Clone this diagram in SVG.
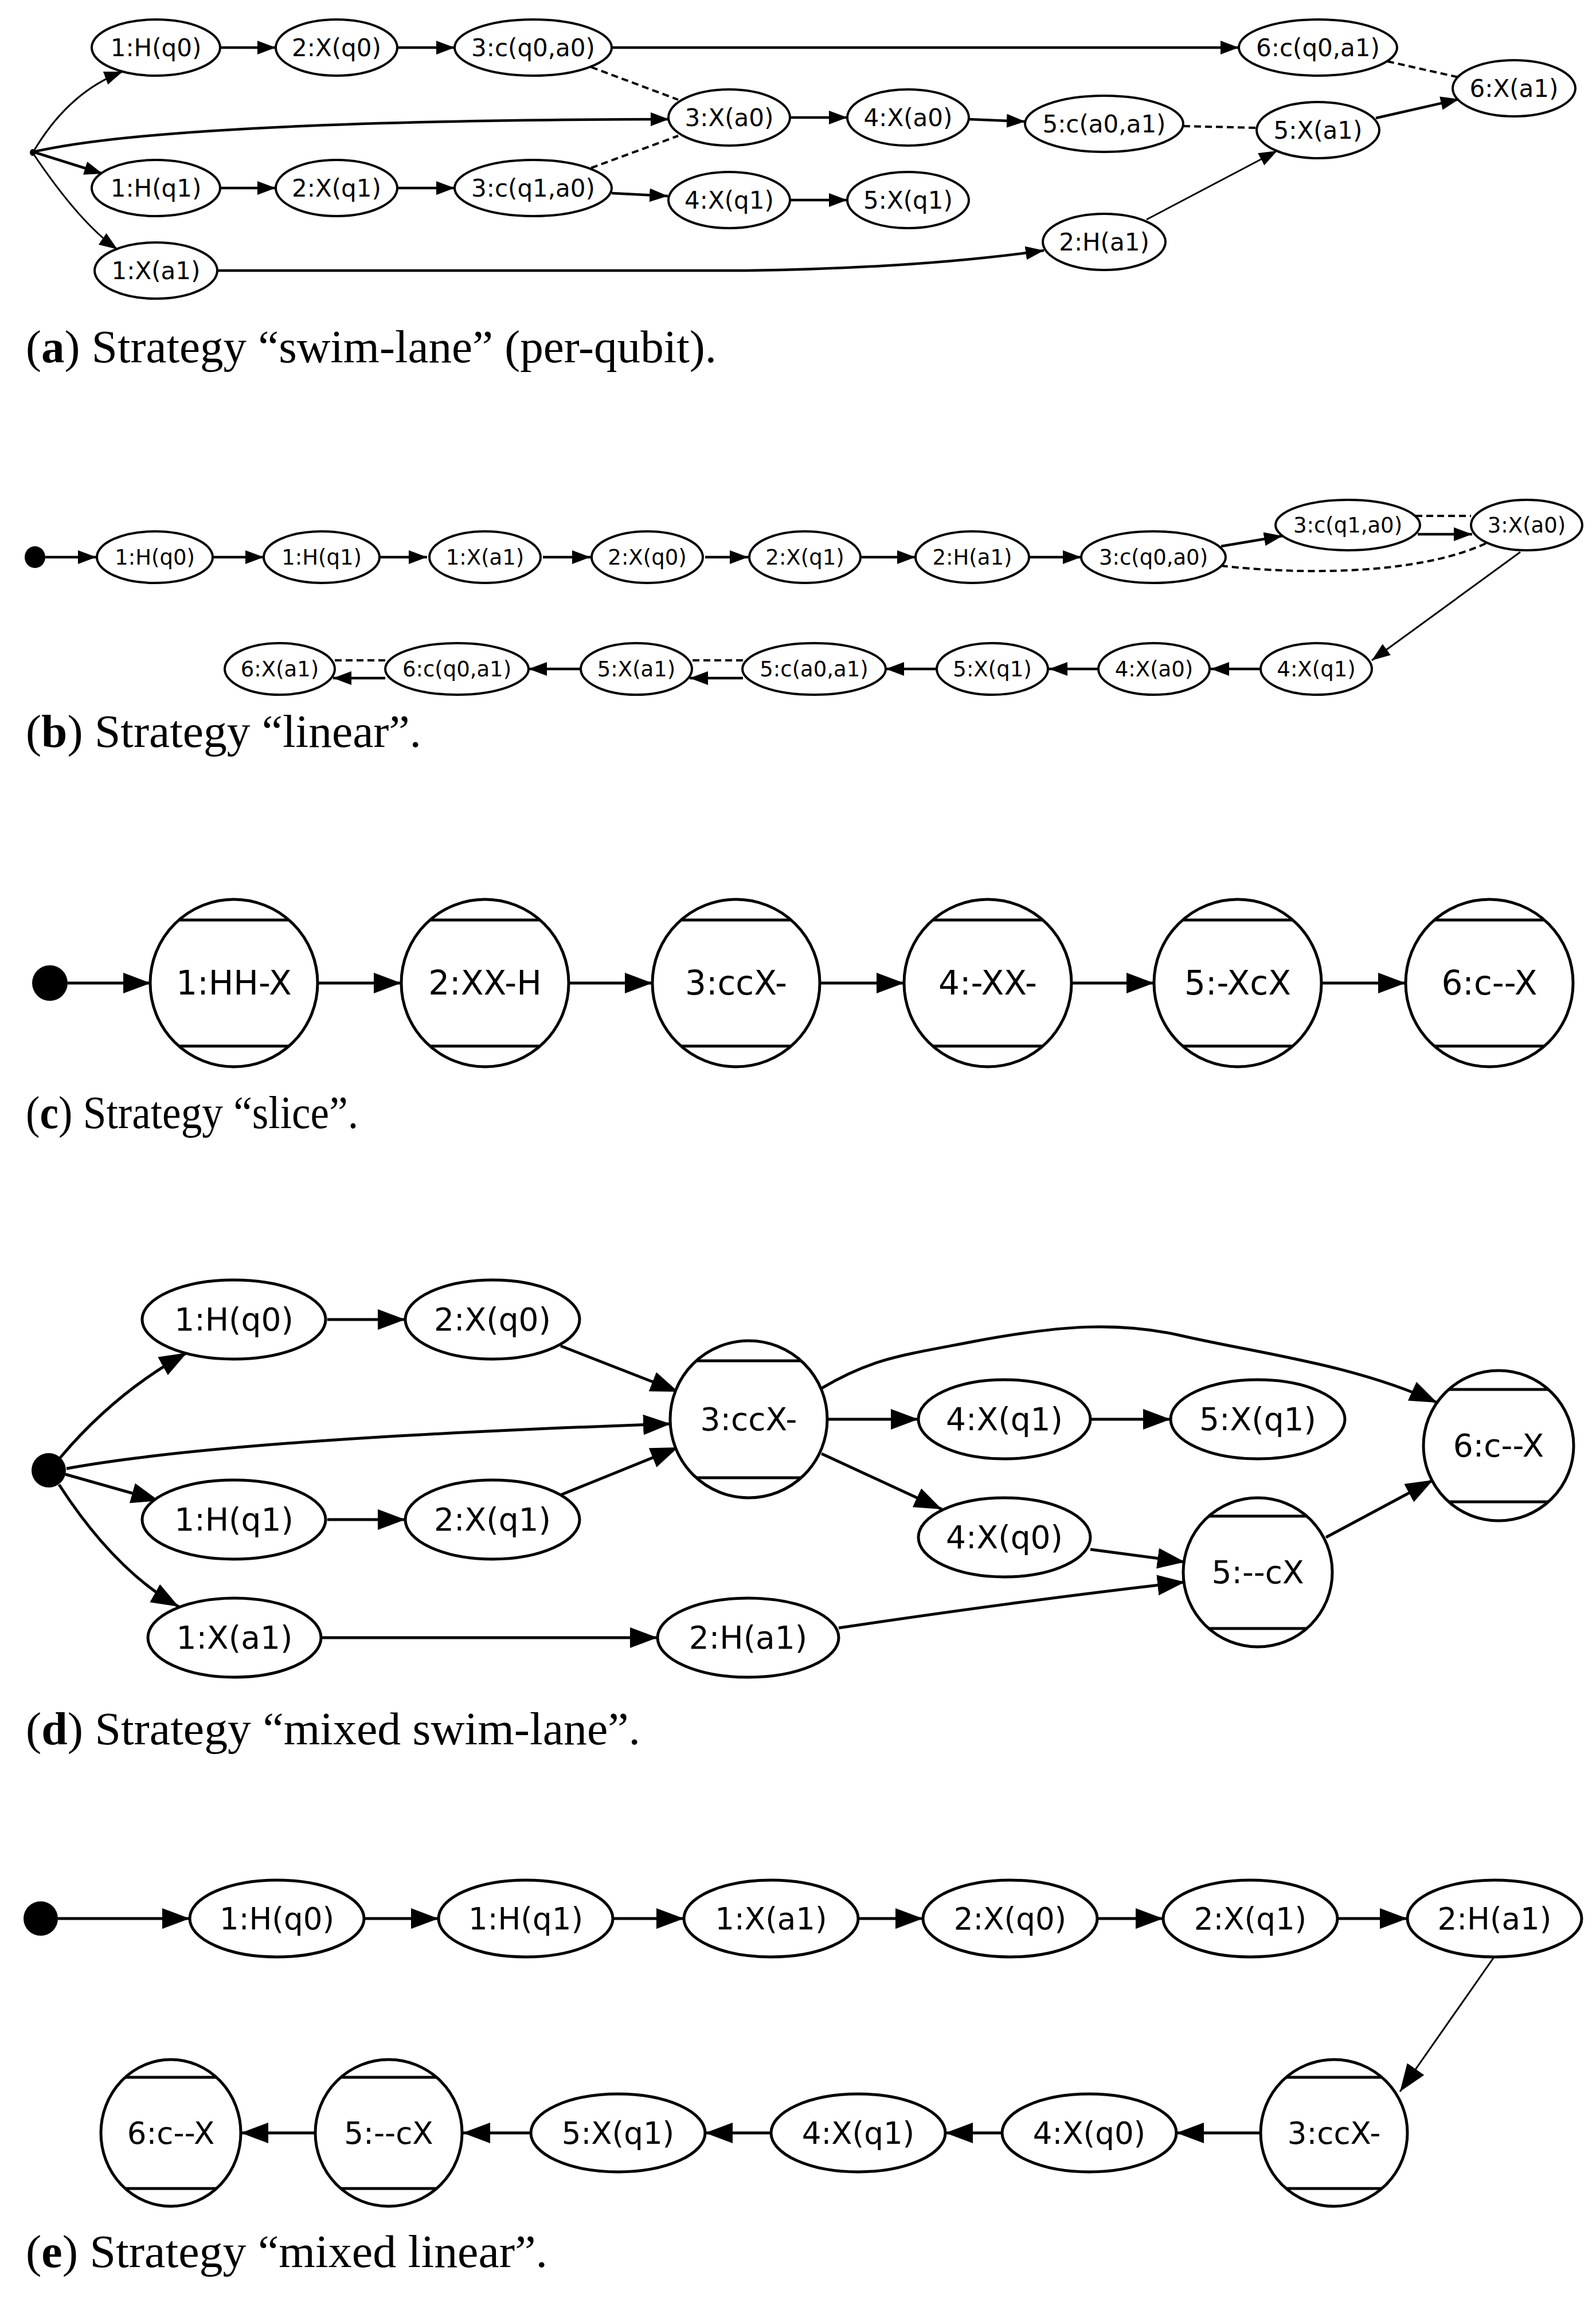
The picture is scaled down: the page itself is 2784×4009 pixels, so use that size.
<svg xmlns="http://www.w3.org/2000/svg" width="2784" height="4009" viewBox="0 0 2784 4009">
<style>
.n{fill:#fff;stroke:#000;stroke-width:4}
.N{fill:#fff;stroke:#000;stroke-width:5}
.t{font-family:"DejaVu Sans",sans-serif;text-anchor:middle;dominant-baseline:central;fill:#000}
.ta{font-size:42px}.tb{font-size:37px}.tc{font-size:58px}.td{font-size:55px}.te{font-size:53px}
.e{fill:none;stroke:#000;stroke-width:4.5}
.eh{fill:none;stroke:#000;stroke-width:3}
.E{fill:none;stroke:#000;stroke-width:5}
.d{fill:none;stroke:#000;stroke-width:4;stroke-dasharray:12,7}
.cap{font-family:"Liberation Serif",serif;font-size:80px;fill:#000}
.sl{stroke:#000;stroke-width:5}
</style>
<defs>
<marker id="ms" markerUnits="userSpaceOnUse" markerWidth="34" markerHeight="26" refX="32" refY="12" orient="auto"><path d="M0,0 L32,12 L0,24 Z"/></marker>
<marker id="mb" markerUnits="userSpaceOnUse" markerWidth="52" markerHeight="38" refX="48" refY="18" orient="auto"><path d="M0,0 L48,18 L0,36 Z"/></marker>
</defs>

<!-- ===== Panel a ===== -->
<g id="a-connectors">
<path class="eh" d="M58,265 Q120,160 214,125" marker-end="url(#ms)"/>
<path class="e" d="M58,265 Q300,210 1167,208" marker-end="url(#ms)"/>
<path class="e" d="M58,265 L179,303" marker-end="url(#ms)"/>
<path class="eh" d="M58,268 Q140,390 205,435" marker-end="url(#ms)"/>
<path class="e" d="M384,83 L481,83" marker-end="url(#ms)"/>
<path class="e" d="M693,83 L793,83" marker-end="url(#ms)"/>
<path class="e" d="M1067,83 L2161,83" marker-end="url(#ms)"/>
<path class="d" d="M1031,117 L1183,174"/>
<path class="d" d="M1031,293 L1183,237"/>
<path class="e" d="M1378,205 L1478,205" marker-end="url(#ms)"/>
<path class="e" d="M1690,208 L1788,212" marker-end="url(#ms)"/>
<path class="d" d="M2064,220 L2192,223"/>
<path class="e" d="M2400,206 L2545,173" marker-end="url(#ms)"/>
<path class="d" d="M2420,107 L2545,135"/>
<path class="e" d="M384,328 L481,328" marker-end="url(#ms)"/>
<path class="e" d="M693,328 L793,328" marker-end="url(#ms)"/>
<path class="e" d="M1067,337 L1165,342" marker-end="url(#ms)"/>
<path class="e" d="M1378,349 L1478,349" marker-end="url(#ms)"/>
<path class="e" d="M379,472 L1300,472 Q1600,468 1821,437" marker-end="url(#ms)"/>
<path class="eh" d="M2000,383 L2228,263" marker-end="url(#ms)"/>
</g>
<g id="a-start"><ellipse cx="57" cy="266" rx="5" ry="6"/></g>
<g id="a1"><ellipse class="n" cx="272" cy="83" rx="112" ry="49"/><text class="t ta" x="272" y="83">1:H(q0)</text></g>
<g id="a2"><ellipse class="n" cx="587" cy="83" rx="106" ry="49"/><text class="t ta" x="587" y="83">2:X(q0)</text></g>
<g id="a3"><ellipse class="n" cx="930" cy="83" rx="137" ry="49"/><text class="t ta" x="930" y="83">3:c(q0,a0)</text></g>
<g id="a4"><ellipse class="n" cx="2299" cy="83" rx="138" ry="49"/><text class="t ta" x="2299" y="83">6:c(q0,a1)</text></g>
<g id="a5"><ellipse class="n" cx="2641" cy="154" rx="107" ry="49"/><text class="t ta" x="2641" y="154">6:X(a1)</text></g>
<g id="a6"><ellipse class="n" cx="1272" cy="205" rx="106" ry="49"/><text class="t ta" x="1272" y="205">3:X(a0)</text></g>
<g id="a7"><ellipse class="n" cx="1584" cy="205" rx="106" ry="49"/><text class="t ta" x="1584" y="205">4:X(a0)</text></g>
<g id="a8"><ellipse class="n" cx="1926" cy="216" rx="138" ry="49"/><text class="t ta" x="1926" y="216">5:c(a0,a1)</text></g>
<g id="a9"><ellipse class="n" cx="2299" cy="227" rx="107" ry="49"/><text class="t ta" x="2299" y="227">5:X(a1)</text></g>
<g id="a10"><ellipse class="n" cx="272" cy="328" rx="112" ry="49"/><text class="t ta" x="272" y="328">1:H(q1)</text></g>
<g id="a11"><ellipse class="n" cx="587" cy="328" rx="106" ry="49"/><text class="t ta" x="587" y="328">2:X(q1)</text></g>
<g id="a12"><ellipse class="n" cx="930" cy="328" rx="137" ry="49"/><text class="t ta" x="930" y="328">3:c(q1,a0)</text></g>
<g id="a13"><ellipse class="n" cx="1272" cy="349" rx="106" ry="49"/><text class="t ta" x="1272" y="349">4:X(q1)</text></g>
<g id="a14"><ellipse class="n" cx="1584" cy="349" rx="106" ry="49"/><text class="t ta" x="1584" y="349">5:X(q1)</text></g>
<g id="a15"><ellipse class="n" cx="272" cy="472" rx="107" ry="49"/><text class="t ta" x="272" y="472">1:X(a1)</text></g>
<g id="a16"><ellipse class="n" cx="1926" cy="422" rx="107" ry="49"/><text class="t ta" x="1926" y="422">2:H(a1)</text></g>
<text class="cap" x="45" y="632" textLength="1205" lengthAdjust="spacingAndGlyphs">(<tspan font-weight="bold">a</tspan>) Strategy “swim-lane” (per-qubit).</text>

<!-- ===== Panel b ===== -->
<g id="b-connectors">
<path class="e" d="M79,972 L168,972" marker-end="url(#ms)"/>
<path class="e" d="M371,972 L460,972" marker-end="url(#ms)"/>
<path class="e" d="M662,972 L745,972" marker-end="url(#ms)"/>
<path class="e" d="M947,972 L1030,972" marker-end="url(#ms)"/>
<path class="e" d="M1230,972 L1305,972" marker-end="url(#ms)"/>
<path class="e" d="M1503,972 L1597,972" marker-end="url(#ms)"/>
<path class="e" d="M1795,972 L1886,972" marker-end="url(#ms)"/>
<path class="e" d="M2130,953 L2237,935" marker-end="url(#ms)"/>
<path class="e" d="M2473,932 L2568,932" marker-end="url(#ms)"/>
<path class="d" d="M2469,900 L2566,900"/>
<path class="d" d="M2130,987 C2260,1002 2470,1005 2594,947"/>
<path class="eh" d="M2652,963 L2393,1152" marker-end="url(#ms)"/>
<path class="e" d="M2199,1167 L2112,1167" marker-end="url(#ms)"/>
<path class="e" d="M1916,1167 L1830,1167" marker-end="url(#ms)"/>
<path class="e" d="M1634,1167 L1545,1167" marker-end="url(#ms)"/>
<path class="d" d="M1296,1152 L1207,1152"/>
<path class="e" d="M1296,1183 L1203,1183" marker-end="url(#ms)"/>
<path class="e" d="M1013,1167 L922,1167" marker-end="url(#ms)"/>
<path class="d" d="M672,1152 L584,1152"/>
<path class="e" d="M672,1183 L581,1183" marker-end="url(#ms)"/>
</g>
<g id="b-start"><ellipse cx="61" cy="972" rx="18" ry="19"/></g>
<g id="b1"><ellipse class="n" cx="270" cy="972" rx="101" ry="45"/><text class="t tb" x="270" y="972">1:H(q0)</text></g>
<g id="b2"><ellipse class="n" cx="561" cy="972" rx="101" ry="45"/><text class="t tb" x="561" y="972">1:H(q1)</text></g>
<g id="b3"><ellipse class="n" cx="846" cy="972" rx="97" ry="45"/><text class="t tb" x="846" y="972">1:X(a1)</text></g>
<g id="b4"><ellipse class="n" cx="1129" cy="972" rx="97" ry="45"/><text class="t tb" x="1129" y="972">2:X(q0)</text></g>
<g id="b5"><ellipse class="n" cx="1404" cy="972" rx="97" ry="45"/><text class="t tb" x="1404" y="972">2:X(q1)</text></g>
<g id="b6"><ellipse class="n" cx="1696" cy="972" rx="99" ry="45"/><text class="t tb" x="1696" y="972">2:H(a1)</text></g>
<g id="b7"><ellipse class="n" cx="2012" cy="972" rx="126" ry="45"/><text class="t tb" x="2012" y="972">3:c(q0,a0)</text></g>
<g id="b8"><ellipse class="n" cx="2351" cy="916" rx="126" ry="44"/><text class="t tb" x="2351" y="916">3:c(q1,a0)</text></g>
<g id="b9"><ellipse class="n" cx="2663" cy="916" rx="97" ry="44"/><text class="t tb" x="2663" y="916">3:X(a0)</text></g>
<g id="b10"><ellipse class="n" cx="2296" cy="1167" rx="97" ry="45"/><text class="t tb" x="2296" y="1167">4:X(q1)</text></g>
<g id="b11"><ellipse class="n" cx="2013" cy="1167" rx="97" ry="45"/><text class="t tb" x="2013" y="1167">4:X(a0)</text></g>
<g id="b12"><ellipse class="n" cx="1731" cy="1167" rx="97" ry="45"/><text class="t tb" x="1731" y="1167">5:X(q1)</text></g>
<g id="b13"><ellipse class="n" cx="1420" cy="1167" rx="125" ry="45"/><text class="t tb" x="1420" y="1167">5:c(a0,a1)</text></g>
<g id="b14"><ellipse class="n" cx="1110" cy="1167" rx="97" ry="45"/><text class="t tb" x="1110" y="1167">5:X(a1)</text></g>
<g id="b15"><ellipse class="n" cx="797" cy="1167" rx="125" ry="45"/><text class="t tb" x="797" y="1167">6:c(q0,a1)</text></g>
<g id="b16"><ellipse class="n" cx="488" cy="1167" rx="96" ry="45"/><text class="t tb" x="488" y="1167">6:X(a1)</text></g>
<text class="cap" x="45" y="1303" textLength="690" lengthAdjust="spacingAndGlyphs">(<tspan font-weight="bold">b</tspan>) Strategy “linear”.</text>

<!-- ===== Panel c ===== -->
<g id="c-connectors">
<path class="E" d="M118,1715 L263,1715" marker-end="url(#mb)"/>
<path class="E" d="M554,1715 L700,1715" marker-end="url(#mb)"/>
<path class="E" d="M992,1715 L1138,1715" marker-end="url(#mb)"/>
<path class="E" d="M1430,1715 L1577,1715" marker-end="url(#mb)"/>
<path class="E" d="M1869,1715 L2013,1715" marker-end="url(#mb)"/>
<path class="E" d="M2305,1715 L2452,1715" marker-end="url(#mb)"/>
</g>
<g id="c-start"><circle cx="87" cy="1715" r="31"/></g>
<g id="c1"><circle class="N" cx="408" cy="1715" r="146"/><path class="sl" d="M312,1605 H504 M312,1825 H504"/><text class="t tc" x="408" y="1715">1:HH-X</text></g>
<g id="c2"><circle class="N" cx="846" cy="1715" r="146"/><path class="sl" d="M750,1605 H942 M750,1825 H942"/><text class="t tc" x="846" y="1715">2:XX-H</text></g>
<g id="c3"><circle class="N" cx="1284" cy="1715" r="146"/><path class="sl" d="M1188,1605 H1380 M1188,1825 H1380"/><text class="t tc" x="1284" y="1715">3:ccX-</text></g>
<g id="c4"><circle class="N" cx="1723" cy="1715" r="146"/><path class="sl" d="M1627,1605 H1819 M1627,1825 H1819"/><text class="t tc" x="1723" y="1715">4:-XX-</text></g>
<g id="c5"><circle class="N" cx="2159" cy="1715" r="146"/><path class="sl" d="M2063,1605 H2255 M2063,1825 H2255"/><text class="t tc" x="2159" y="1715">5:-XcX</text></g>
<g id="c6"><circle class="N" cx="2598" cy="1715" r="146"/><path class="sl" d="M2502,1605 H2694 M2502,1825 H2694"/><text class="t tc" x="2598" y="1715">6:c--X</text></g>
<text class="cap" x="45" y="1968" textLength="580" lengthAdjust="spacingAndGlyphs">(<tspan font-weight="bold">c</tspan>) Strategy “slice”.</text>

<!-- ===== Panel d ===== -->
<g id="d-connectors">
<path class="E" d="M105,2543 Q200,2430 326,2360" marker-end="url(#mb)"/>
<path class="E" d="M116,2562 Q400,2510 1170,2484" marker-end="url(#mb)"/>
<path class="E" d="M114,2572 L277,2618" marker-end="url(#mb)"/>
<path class="E" d="M103,2590 Q200,2740 312,2803" marker-end="url(#mb)"/>
<path class="E" d="M571,2302 L707,2302" marker-end="url(#mb)"/>
<path class="E" d="M978,2348 L1183,2428" marker-end="url(#mb)"/>
<path class="E" d="M571,2651 L707,2651" marker-end="url(#mb)"/>
<path class="E" d="M978,2608 L1183,2525" marker-end="url(#mb)"/>
<path class="E" d="M562,2857 L1147,2857" marker-end="url(#mb)"/>
<path class="E" d="M1463,2840 Q1800,2790 2067,2760" marker-end="url(#mb)"/>
<path class="E" d="M1442,2476 L1602,2476" marker-end="url(#mb)"/>
<path class="E" d="M1903,2476 L2042,2476" marker-end="url(#mb)"/>
<path class="E" d="M1433,2536 L1643,2633" marker-end="url(#mb)"/>
<path class="E" d="M1902,2703 L2067,2725" marker-end="url(#mb)"/>
<path class="E" d="M2313,2682 L2500,2582" marker-end="url(#mb)"/>
<path class="E" d="M1433,2422 C1520,2370 1570,2365 1700,2340 C1850,2312 1950,2305 2060,2330 C2200,2362 2360,2380 2507,2447" marker-end="url(#mb)"/>
</g>
<g id="d-start"><circle cx="85" cy="2565" r="30"/></g>
<g id="d1"><ellipse class="N" cx="408" cy="2302" rx="160" ry="69"/><text class="t td" x="408" y="2302">1:H(q0)</text></g>
<g id="d2"><ellipse class="N" cx="859" cy="2302" rx="152" ry="69"/><text class="t td" x="859" y="2302">2:X(q0)</text></g>
<g id="d3"><ellipse class="N" cx="408" cy="2651" rx="160" ry="69"/><text class="t td" x="408" y="2651">1:H(q1)</text></g>
<g id="d4"><ellipse class="N" cx="859" cy="2651" rx="152" ry="69"/><text class="t td" x="859" y="2651">2:X(q1)</text></g>
<g id="d5"><ellipse class="N" cx="409" cy="2857" rx="151" ry="69"/><text class="t td" x="409" y="2857">1:X(a1)</text></g>
<g id="d6"><ellipse class="N" cx="1305" cy="2857" rx="158" ry="69"/><text class="t td" x="1305" y="2857">2:H(a1)</text></g>
<g id="d7"><circle class="N" cx="1306" cy="2476" r="137"/><path class="sl" d="M1215,2374 H1397 M1215,2578 H1397"/><text class="t td" x="1306" y="2476">3:ccX-</text></g>
<g id="d8"><ellipse class="N" cx="1752" cy="2476" rx="150" ry="69"/><text class="t td" x="1752" y="2476">4:X(q1)</text></g>
<g id="d9"><ellipse class="N" cx="2194" cy="2476" rx="152" ry="69"/><text class="t td" x="2194" y="2476">5:X(q1)</text></g>
<g id="d10"><ellipse class="N" cx="1752" cy="2682" rx="150" ry="69"/><text class="t td" x="1752" y="2682">4:X(q0)</text></g>
<g id="d11"><circle class="N" cx="2194" cy="2743" r="130"/><path class="sl" d="M2107,2645 H2281 M2107,2841 H2281"/><text class="t td" x="2194" y="2743">5:--cX</text></g>
<g id="d12"><circle class="N" cx="2614" cy="2522" r="131"/><path class="sl" d="M2527,2424 H2701 M2527,2620 H2701"/><text class="t td" x="2614" y="2522">6:c--X</text></g>
<text class="cap" x="45" y="3043" textLength="1072" lengthAdjust="spacingAndGlyphs">(<tspan font-weight="bold">d</tspan>) Strategy “mixed swim-lane”.</text>

<!-- ===== Panel e ===== -->
<g id="e-connectors">
<path class="E" d="M101,3347 L331,3347" marker-end="url(#mb)"/>
<path class="E" d="M635,3347 L765,3347" marker-end="url(#mb)"/>
<path class="E" d="M1069,3347 L1193,3347" marker-end="url(#mb)"/>
<path class="E" d="M1497,3347 L1610,3347" marker-end="url(#mb)"/>
<path class="E" d="M1914,3347 L2029,3347" marker-end="url(#mb)"/>
<path class="E" d="M2333,3347 L2455,3347" marker-end="url(#mb)"/>
<path class="eh" d="M2607,3413 L2442,3649" marker-end="url(#mb)"/>
<path class="E" d="M2200,3721 L2052,3721" marker-end="url(#mb)"/>
<path class="E" d="M1748,3721 L1649,3721" marker-end="url(#mb)"/>
<path class="E" d="M1345,3721 L1230,3721" marker-end="url(#mb)"/>
<path class="E" d="M926,3721 L807,3721" marker-end="url(#mb)"/>
<path class="E" d="M549,3721 L420,3721" marker-end="url(#mb)"/>
</g>
<g id="e-start"><circle cx="71" cy="3347" r="30"/></g>
<g id="e1"><ellipse class="N" cx="483" cy="3347" rx="152" ry="67"/><text class="t te" x="483" y="3347">1:H(q0)</text></g>
<g id="e2"><ellipse class="N" cx="917" cy="3347" rx="152" ry="67"/><text class="t te" x="917" y="3347">1:H(q1)</text></g>
<g id="e3"><ellipse class="N" cx="1345" cy="3347" rx="152" ry="67"/><text class="t te" x="1345" y="3347">1:X(a1)</text></g>
<g id="e4"><ellipse class="N" cx="1762" cy="3347" rx="152" ry="67"/><text class="t te" x="1762" y="3347">2:X(q0)</text></g>
<g id="e5"><ellipse class="N" cx="2181" cy="3347" rx="152" ry="67"/><text class="t te" x="2181" y="3347">2:X(q1)</text></g>
<g id="e6"><ellipse class="N" cx="2607" cy="3347" rx="152" ry="67"/><text class="t te" x="2607" y="3347">2:H(a1)</text></g>
<g id="e7"><circle class="N" cx="2327" cy="3721" r="128"/><path class="sl" d="M2243,3624 H2411 M2243,3818 H2411"/><text class="t te" x="2327" y="3721">3:ccX-</text></g>
<g id="e8"><ellipse class="N" cx="1900" cy="3721" rx="152" ry="68"/><text class="t te" x="1900" y="3721">4:X(q0)</text></g>
<g id="e9"><ellipse class="N" cx="1497" cy="3721" rx="152" ry="68"/><text class="t te" x="1497" y="3721">4:X(q1)</text></g>
<g id="e10"><ellipse class="N" cx="1078" cy="3721" rx="152" ry="68"/><text class="t te" x="1078" y="3721">5:X(q1)</text></g>
<g id="e11"><circle class="N" cx="678" cy="3721" r="128"/><path class="sl" d="M594,3624 H762 M594,3818 H762"/><text class="t te" x="678" y="3721">5:--cX</text></g>
<g id="e12"><ellipse class="N" cx="298" cy="3721" rx="122" ry="128"/><path class="sl" d="M218,3624 H378 M218,3818 H378"/><text class="t te" x="298" y="3721">6:c--X</text></g>
<text class="cap" x="45" y="3955" textLength="910" lengthAdjust="spacingAndGlyphs">(<tspan font-weight="bold">e</tspan>) Strategy “mixed linear”.</text>
</svg>
